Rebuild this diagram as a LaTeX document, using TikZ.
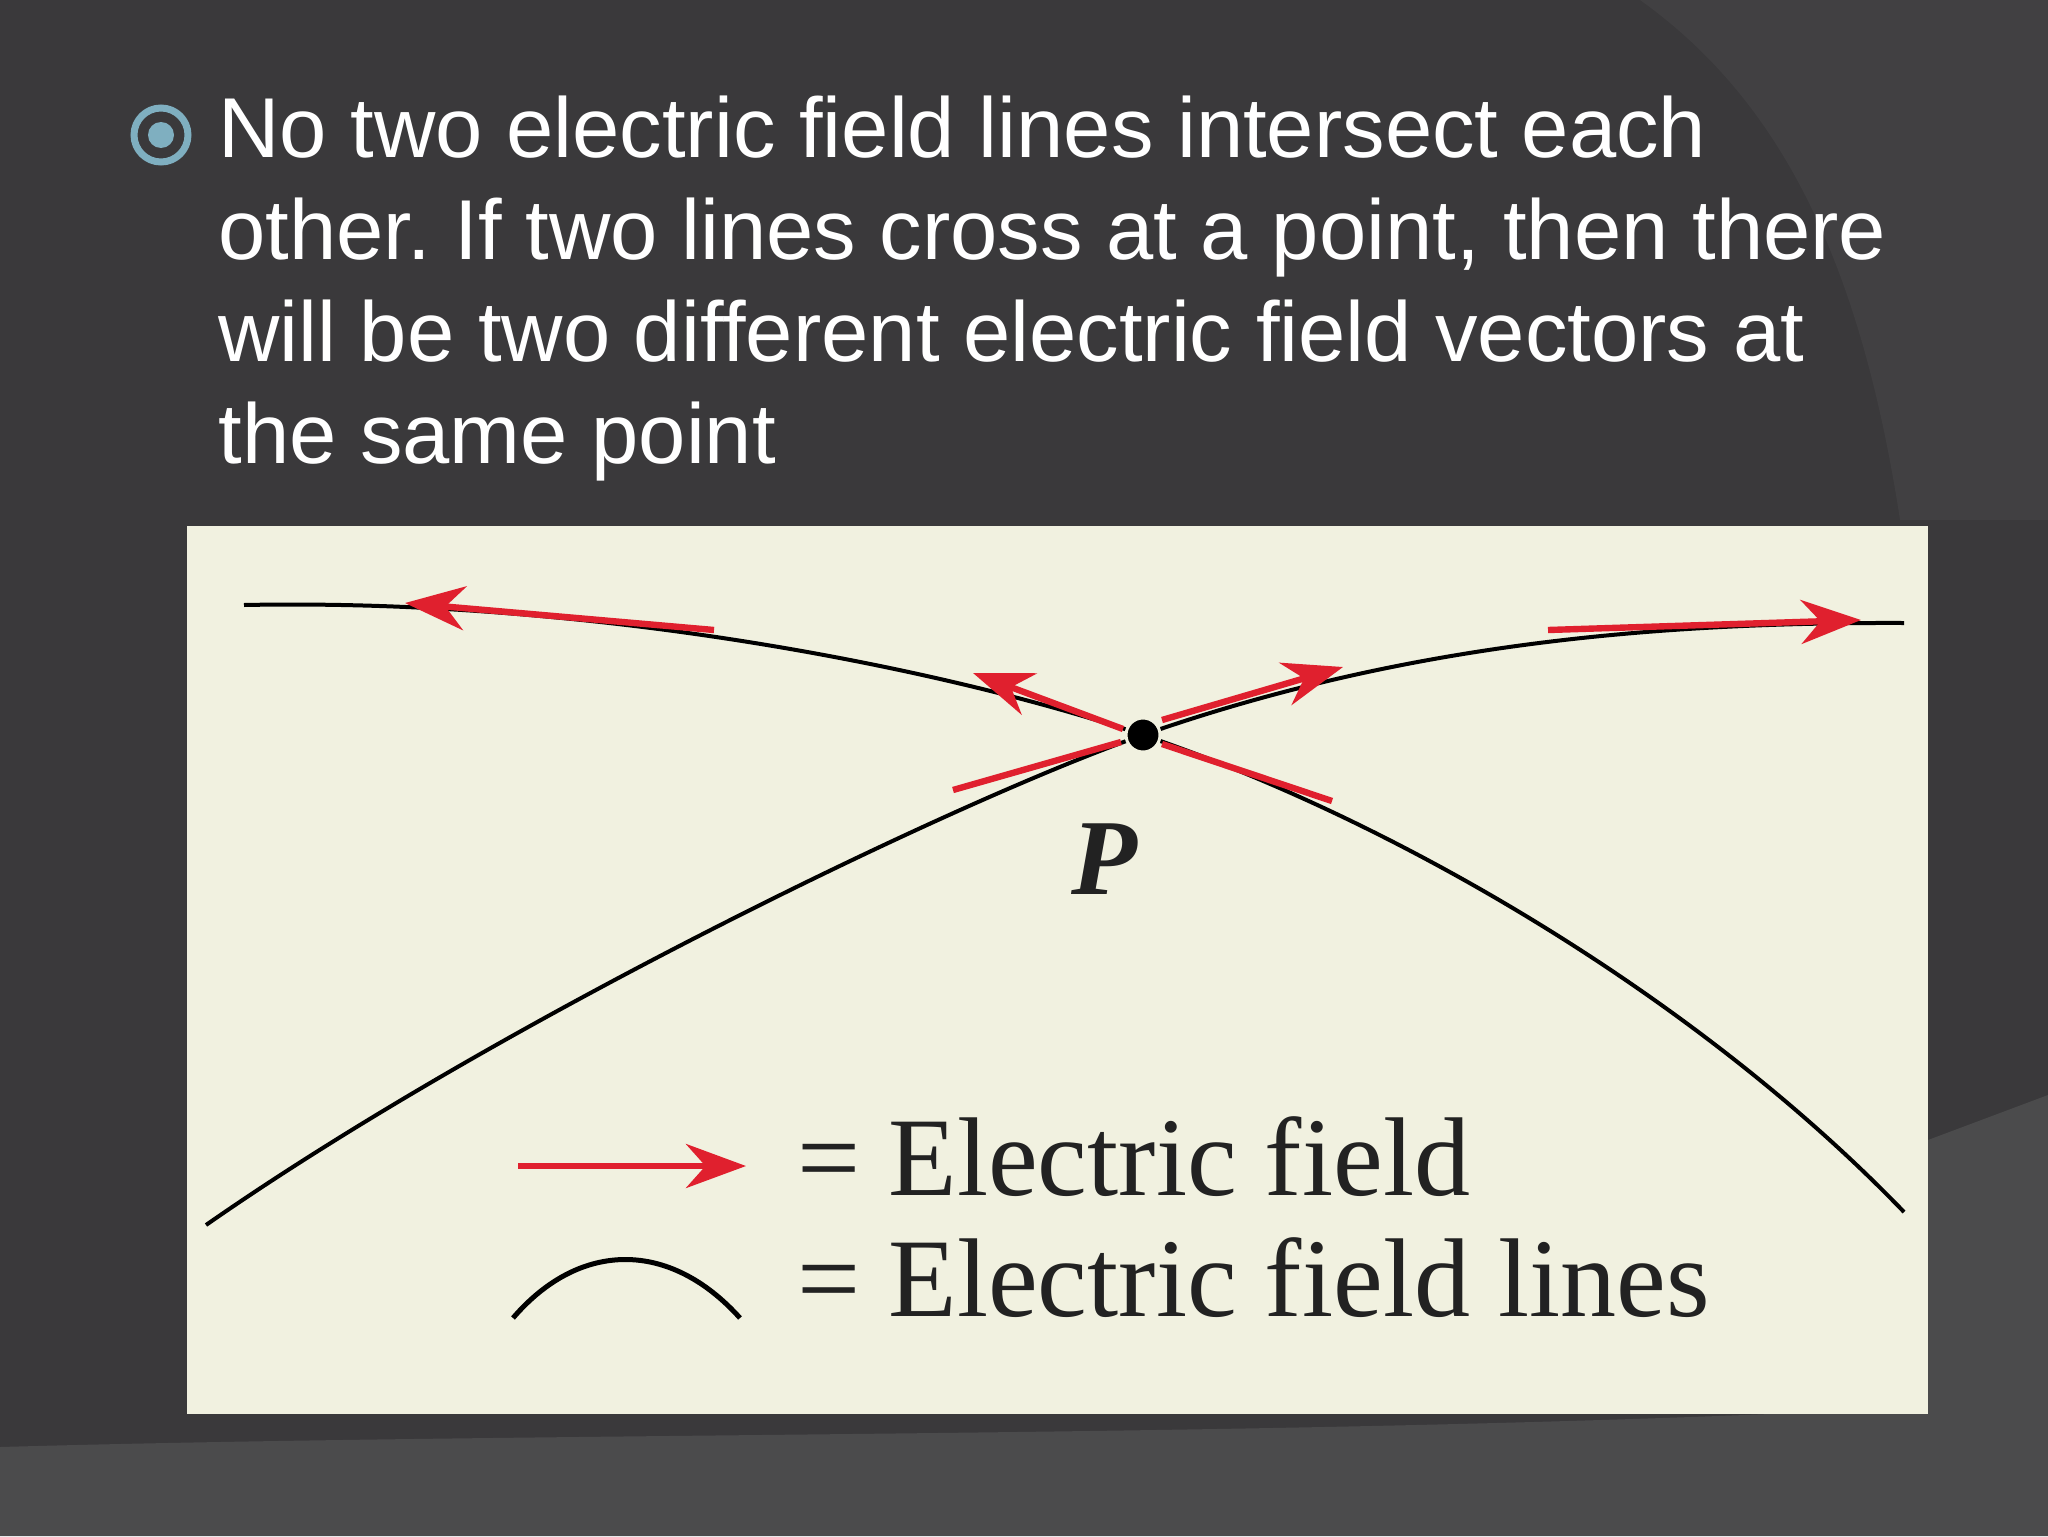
\documentclass[tikz,border=0pt]{standalone}
\usepackage{fontspec}
\setmainfont{Liberation Serif}
\newfontfamily\slidefont{Liberation Sans}
\usetikzlibrary{arrows.meta}
\definecolor{bgdark}{HTML}{3A393B}
\definecolor{bglight}{HTML}{4B4B4C}
\definecolor{bgmid}{HTML}{414042}
\definecolor{panel}{HTML}{F1F1E0}
\definecolor{fieldred}{HTML}{E0202E}
\definecolor{bullet}{HTML}{7FAFC0}
\definecolor{legtext}{HTML}{222222}
\tikzset{
  fline/.style={line width=2pt, black},
  fvec/.style={line width=3.2pt, fieldred, -{Stealth[length=30pt,width=22pt]}},
  fbar/.style={line width=3.2pt, fieldred},
  slidetext/.style={text=white, font=\slidefont\fontsize{42.5}{51}\selectfont, anchor=north west, align=left, inner sep=0pt},
  legend/.style={text=legtext, font=\fontsize{56}{56}\selectfont, anchor=base west, inner sep=0pt}
}
\begin{document}
\frenchspacing
\begin{tikzpicture}[x=0.5pt,y=-0.5pt]
\useasboundingbox (0,0) rectangle (2048,1536);
\fill[bgdark] (0,0) rectangle (2048,1536);
% background arcs
\fill[bgmid] (1640,0) .. controls (1780,100) and (1860,260) .. (1900,520) -- (2048,520) -- (2048,0) -- cycle;
\fill[bglight] (0,1447) .. controls (600,1430) and (1400,1440) .. (2048,1400) -- (2048,1536) -- (0,1536) -- cycle;
\fill[bglight] (1928,1140) -- (2048,1095) -- (2048,1420) -- (1928,1430) -- cycle;
% bullet
\node[circle, draw=bullet, line width=3.5pt, minimum size=27pt, inner sep=0pt] (bul) at (161,135) {};
\node[circle, fill=bullet, minimum size=13pt, inner sep=0pt] (buldot) at (161,135) {};
\node[slidetext] (txt) at (218,96) {No two electric field lines intersect each\\other. If two lines cross at a point, then there\\will be two different electric field vectors at\\the same point};
% panel
\node[fill=panel, minimum width=870.5pt, minimum height=444pt, inner sep=0pt, anchor=north west] (pan) at (187,526) {};
% coordinates
\coordinate (P) at (1143,735);
\coordinate (a0) at (244,605); \coordinate (a1) at (1904,1212);
\coordinate (b0) at (206,1225); \coordinate (b1) at (1904,623);
% field lines
\draw[fline] (a0) .. controls (600,598) and (950,670) .. (P) .. controls (1400,822) and (1700,1000) .. (a1);
\draw[fline] (b0) .. controls (500,1020) and (960,799) .. (P) .. controls (1400,645) and (1650,622) .. (b1);
% red vectors
\coordinate (r1s) at (714,630); \coordinate (r1e) at (405,603);
\coordinate (r2s) at (1123,729); \coordinate (r2e) at (973,673);
\coordinate (r3s) at (1162,720); \coordinate (r3e) at (1343,667);
\coordinate (r4s) at (1121,742); \coordinate (r4e) at (953,790);
\coordinate (r5s) at (1162,744); \coordinate (r5e) at (1332,801);
\coordinate (r6s) at (1548,630); \coordinate (r6e) at (1861,620);
\draw[fvec] (r1s) -- (r1e);
\draw[fvec] (r2s) -- (r2e);
\draw[fvec] (r3s) -- (r3e);
\draw[fbar] (r4s) -- (r4e);
\draw[fbar] (r5s) -- (r5e);
\draw[fvec] (r6s) -- (r6e);
\node[circle, fill=black, draw=panel, line width=1.5pt, minimum size=17pt, inner sep=0pt] (pdot) at (P) {};
\node[font=\bfseries\itshape\fontsize{54}{54}\selectfont, inner sep=0pt, text=legtext] (plab) at (1104,859) {P};
% legend
\coordinate (l1s) at (518,1166); \coordinate (l1e) at (746,1166);
\draw[fvec] (l1s) -- (l1e);
\node[legend] (leg1) at (797,1195) {= Electric field};
\coordinate (l2s) at (513,1318); \coordinate (l2e) at (740,1318);
\draw[fline, line width=2.5pt] (l2s) .. controls (580,1240) and (670,1240) .. (l2e);
\node[legend] (leg2) at (797,1316) {= Electric field lines};
\end{tikzpicture}
\end{document}
